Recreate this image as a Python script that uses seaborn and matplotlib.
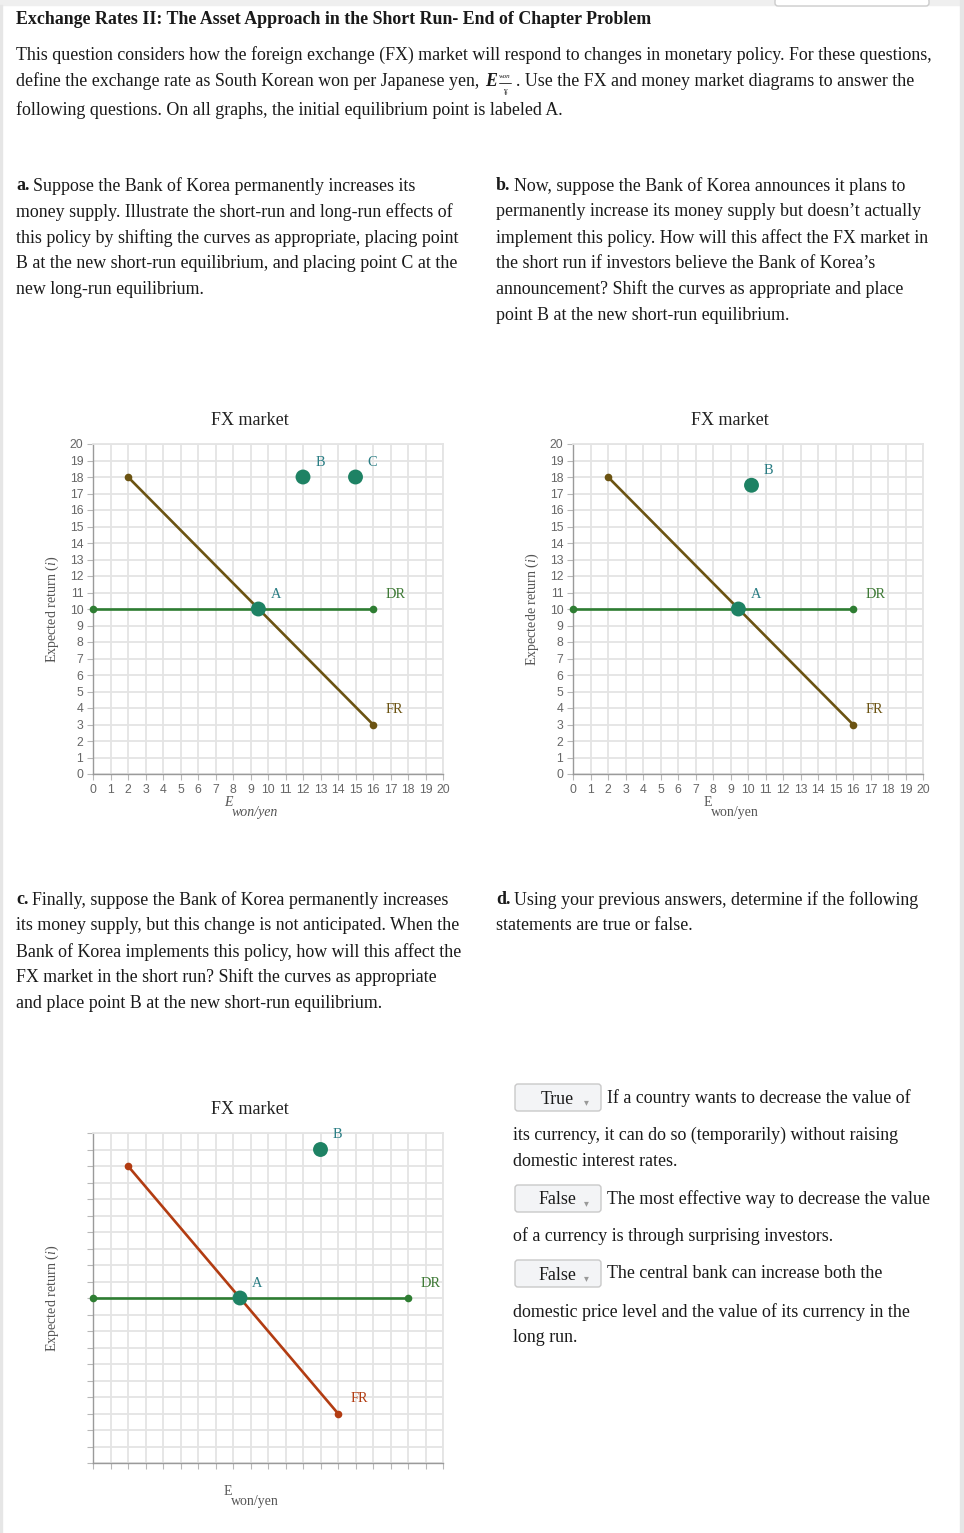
import matplotlib
matplotlib.use('Agg')
import matplotlib.pyplot as plt
import matplotlib.transforms as mtrans
from matplotlib.patches import FancyBboxPatch, Rectangle
import seaborn as sns

# ---- chart data ----
ticks = list(range(0, 21))

# panel a
fr_a_x = [2, 16]
fr_a_y = [18, 3]
dr_a_x = [0, 16]
dr_a_y = [10, 10]
pts_a_x = [9.45, 12, 15]
pts_a_y = [10, 18, 18]
pts_a_lbl = ['A', 'B', 'C']

# panel b
fr_b_x = [2, 16]
fr_b_y = [18, 3]
dr_b_x = [0, 16]
dr_b_y = [10, 10]
pts_b_x = [9.45, 10.2]
pts_b_y = [10, 17.5]
pts_b_lbl = ['A', 'B']

# panel c
fr_c_x = [2, 14]
fr_c_y = [18, 3]
dr_c_x = [0, 18]
dr_c_y = [10, 10]
pts_c_x = [8.4, 13]
pts_c_y = [10, 19]
pts_c_lbl = ['A', 'B']

# panel d answers
answers = ['True', 'False', 'False']

W, H = 964, 1533
SERIF = 'Liberation Serif'
SANS = 'Liberation Sans'
BODY = 12.9

sns.set_style('white')
plt.rcParams['font.family'] = [SERIF, 'DejaVu Sans']
plt.rcParams['mathtext.fontset'] = 'custom'
plt.rcParams['mathtext.rm'] = SERIF
plt.rcParams['mathtext.it'] = SERIF + ':italic'

fig = plt.figure(figsize=(W / 100, H / 100), dpi=100)
px = mtrans.IdentityTransform()


def put(x, y, s, **kw):
    kw.setdefault('fontsize', BODY)
    kw.setdefault('color', '#1a1a1a')
    ha = kw.pop('ha', 'left')
    va = kw.pop('va', 'center')
    return fig.text(x / W, 1 - y / H, s, ha=ha, va=va, **kw)


renderer = fig.canvas.get_renderer()


def lead_line(x, y, lead, rest):
    t = put(x, y, lead, weight='bold')
    w = t.get_window_extent(renderer).width
    put(x + w + 4, y, rest)


def paragraph(x, y0, lines, step=25.8):
    for i, ln in enumerate(lines):
        if i == 0:
            lead_line(x, y0, ln[0], ln[1])
        else:
            put(x, y0 + i * step, ln)


# page chrome
fig.patches.append(Rectangle((0, H - 5), W, 5, transform=px, color='#efefef', zorder=0))
fig.patches.append(FancyBboxPatch((775, H - 6), 154, 8, boxstyle='round,pad=0,rounding_size=3',
                                  transform=px, facecolor='white', edgecolor='#cccccc', lw=1, zorder=1))
fig.patches.append(Rectangle((960, 0), 4, H, transform=px, color='#e6e6e6', zorder=0))
fig.patches.append(Rectangle((0, 0), 1.5, H - 5, transform=px, color='#e6e6e6', zorder=0))

# header
put(16, 19, 'Exchange Rates II: The Asset Approach in the Short Run- End of Chapter Problem',
    weight='bold', fontsize=12.9)
put(16, 55, 'This question considers how the foreign exchange (FX) market will respond to changes in '
            'monetary policy. For these questions,')
t = put(16, 81, 'define the exchange rate as South Korean won per Japanese yen, ')
x_e = 16 + t.get_window_extent(renderer).width + 1
put(x_e, 81, 'E', style='italic', weight='bold')
put(x_e + 20, 77, 'won', fontsize=5, style='italic', ha='center')
fig.add_artist(plt.Line2D([(x_e + 14) / W, (x_e + 26) / W], [1 - 83 / H, 1 - 83 / H],
                          color='#1a1a1a', lw=0.6))
put(x_e + 20, 93, '¥', fontsize=5.5, ha='center')
put(x_e + 31, 81, '. Use the FX and money market diagrams to answer the')
put(16, 110, 'following questions. On all graphs, the initial equilibrium point is labeled A.')

paragraph(16, 186, [('a.', 'Suppose the Bank of Korea permanently increases its'),
                    'money supply. Illustrate the short-run and long-run effects of',
                    'this policy by shifting the curves as appropriate, placing point',
                    'B at the new short-run equilibrium, and placing point C at the',
                    'new long-run equilibrium.'])
paragraph(496, 186, [('b.', 'Now, suppose the Bank of Korea announces it plans to'),
                     'permanently increase its money supply but doesn\u2019t actually',
                     'implement this policy. How will this affect the FX market in',
                     'the short run if investors believe the Bank of Korea\u2019s',
                     'announcement? Shift the curves as appropriate and place',
                     'point B at the new short-run equilibrium.'])
paragraph(16, 900, [('c.', 'Finally, suppose the Bank of Korea permanently increases'),
                    'its money supply, but this change is not anticipated. When the',
                    'Bank of Korea implements this policy, how will this affect the',
                    'FX market in the short run? Shift the curves as appropriate',
                    'and place point B at the new short-run equilibrium.'])
paragraph(496, 900, [('d.', 'Using your previous answers, determine if the following'),
                     'statements are true or false.'])

# true / false statements with dropdown boxes
statements = [
    (1098, 'If a country wants to decrease the value of',
     ['its currency, it can do so (temporarily) without raising', 'domestic interest rates.'], 1135),
    (1199, 'The most effective way to decrease the value',
     ['of a currency is through surprising investors.'], 1236),
    (1274, 'The central bank can increase both the',
     ['domestic price level and the value of its currency in the', 'long run.'], 1312),
]
for ans, (yc, first, rest, y_rest) in zip(answers, statements):
    fig.patches.append(FancyBboxPatch((515, H - yc - 13), 86, 27,
                                      boxstyle='round,pad=0,rounding_size=3', transform=px,
                                      facecolor='#f3f4f6', edgecolor='#c9c9c9', lw=1))
    put(557, yc + 1, ans, ha='center')
    put(586, yc + 4, '\u25be', fontsize=7, color='#999999', family='DejaVu Sans', ha='center')
    put(607, yc, first)
    for i, ln in enumerate(rest):
        put(513, y_rest + i * 26, ln)


def fx_chart(left_px, top_px, fr_x, fr_y, fr_col, dr_x, dr_y, pts_x, pts_y, pts_lbl,
             show_labels, italic_e, ylab):
    ax = fig.add_axes([left_px / W, 1 - (top_px + 330) / H, 350 / W, 330 / H])
    sns.lineplot(x=dr_x, y=dr_y, ax=ax, color='#2e7d32', lw=1.9, marker='o', markersize=5.5,
                 markeredgewidth=0, zorder=3, clip_on=False)
    sns.lineplot(x=fr_x, y=fr_y, ax=ax, color=fr_col, lw=1.9, marker='o', markersize=5.5,
                 markeredgewidth=0, zorder=3, clip_on=False)
    sns.scatterplot(x=pts_x, y=pts_y, ax=ax, color='#1e8264', s=115, edgecolor='none',
                    zorder=5, clip_on=False)
    off = dict(xytext=(8.8, 10.5), textcoords='offset points', fontsize=10.4, ha='left', va='center')
    for x, y, l in zip(pts_x, pts_y, pts_lbl):
        ax.annotate(l, (x, y), color='#2a7d84', **off)
    ax.annotate('DR', (dr_x[-1], dr_y[-1]), color='#3f7a36', **off)
    ax.annotate('FR', (fr_x[-1], fr_y[-1]), color=fr_col, **off)

    ax.set_xlim(0, 20)
    ax.set_ylim(0, 20)
    ax.set_xticks(ticks)
    ax.set_yticks(ticks)
    if show_labels:
        ax.set_xticklabels([str(v) for v in ticks], family=SANS, fontsize=8.8, color='#666666')
        ax.set_yticklabels([str(v) for v in ticks], family=SANS, fontsize=8.8, color='#666666')
    else:
        ax.set_xticklabels([])
        ax.set_yticklabels([])
    ax.tick_params(axis='both', length=4, width=0.8, color='#b8b8b8', pad=3, direction='out')
    ax.tick_params(axis='x', bottom=True)
    ax.tick_params(axis='y', left=True)
    ax.grid(True, color='#e4e4e4', lw=1.3)
    ax.set_axisbelow(True)
    for s in ['left', 'bottom']:
        ax.spines[s].set_color('#9a9a9a')
        ax.spines[s].set_linewidth(1)
    for s in ['top', 'right']:
        ax.spines[s].set_color('#e4e4e4')
        ax.spines[s].set_linewidth(1.3)
    ax.set_xlabel('')
    ax.set_ylabel('')
    ax.text(0.449, 1.07, 'FX market', transform=ax.transAxes, ha='center', va='center',
            fontsize=13, color='#222222')
    ax.text(-0.117, 0.5, ylab, transform=ax.transAxes, rotation=90, ha='center', va='center',
            fontsize=10.1, color='#555555')
    st = 'italic' if italic_e else 'normal'
    ax.text(0.386, -0.085, 'E', transform=ax.transAxes, ha='center', va='center',
            fontsize=10, color='#555555', style=st)
    ax.text(0.463, -0.118, 'won/yen', transform=ax.transAxes, ha='center', va='center',
            fontsize=10, color='#555555', style=st)
    return ax


fx_chart(93, 444, fr_a_x, fr_a_y, '#6b5312', dr_a_x, dr_a_y, pts_a_x, pts_a_y, pts_a_lbl,
         True, True, 'Expected return ($i$)')
fx_chart(573, 444, fr_b_x, fr_b_y, '#6b5312', dr_b_x, dr_b_y, pts_b_x, pts_b_y, pts_b_lbl,
         True, False, 'Expectede return ($i$)')
fx_chart(93, 1133, fr_c_x, fr_c_y, '#b23c12', dr_c_x, dr_c_y, pts_c_x, pts_c_y, pts_c_lbl,
         False, False, 'Expected return ($i$)')

fig.savefig('out.png', dpi=100, facecolor='white')
